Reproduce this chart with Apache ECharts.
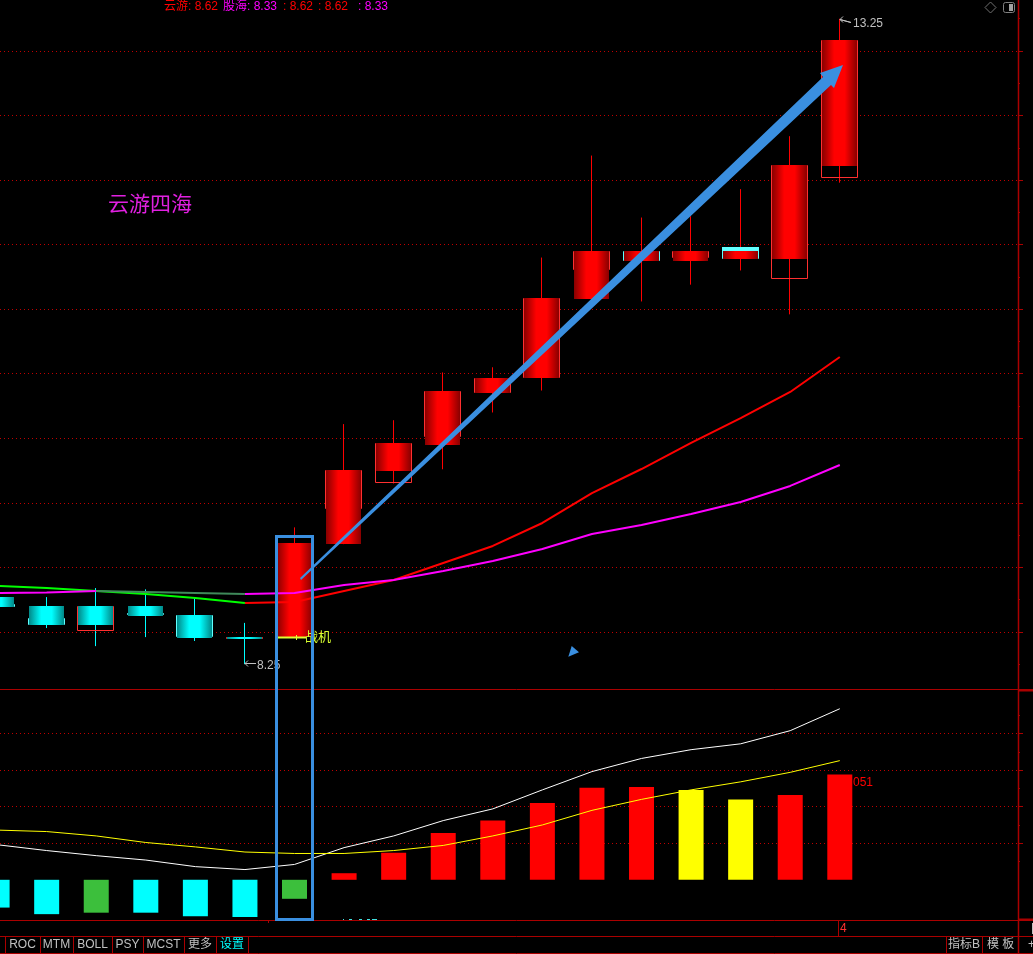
<!DOCTYPE html>
<html>
<head>
<meta charset="utf-8">
<title>云游四海</title>
<script src="https://cdn.jsdelivr.net/npm/echarts@6/dist/echarts.min.js"></script>
<style>
html, body { margin: 0; padding: 0; background: #000; }
#main { width: 1033px; height: 954px; }
</style>
</head>
<body>
<div id="main"></div>
<script>
// K-line values
var bodyTop    = [8.77, 8.70, 8.70, 8.70, 8.63, 8.46, 9.19, 9.755, 9.96, 10.37, 10.47, 11.09, 11.45, 11.45, 11.45, 11.45, 12.117, 13.085];
var bodyBottom = [8.69, 8.55, 8.55, 8.62, 8.45, 8.45, 8.46, 9.18, 9.75, 9.95, 10.35, 10.47, 11.08, 11.37, 11.37, 11.39, 11.39, 12.11];
var wickHigh   = [8.77, 8.77, 8.84, 8.83, 8.76, 8.57, 9.31, 10.11, 10.14, 10.51, 10.55, 11.40, 12.19, 11.71, 11.72, 11.93, 12.34, 13.25];
var wickLow    = [8.69, 8.53, 8.39, 8.46, 8.43, 8.25, 8.46, 9.18, 9.65, 9.76, 10.20, 10.37, 11.08, 11.06, 11.19, 11.30, 10.96, 11.98];
var frameTop   = [8.72, 8.61, 8.70, 8.65, 8.63, 8.46, 9.19, 9.755, 9.96, 10.37, 10.47, 11.09, 11.45, 11.45, 11.45, 11.48, 12.117, 13.085];
var frameBottom= [8.69, 8.55, 8.51, 8.63, 8.46, 8.45, 8.46, 9.45, 9.65, 10.01, 10.35, 10.47, 11.30, 11.37, 11.40, 11.39, 11.23, 12.02];
var bodyKind   = ['d', 'd', 'd', 'd', 'd', 'd', 'u', 'u', 'u', 'u', 'u', 'u', 'u', 'u', 'u', 'u', 'u', 'u'];
var frameKind  = ['d', 'd', 'u', 'd', 'd', 'u', 'u', 'u', 'u', 'u', 'u', 'u', 'u', 'd', 'u', 'd', 'u', 'u'];

// moving averages of the price pane
var maFast = [8.856, 8.84, 8.817, 8.794, 8.763, 8.724, 8.732, 8.817, 8.902, 9.034, 9.166, 9.344, 9.576, 9.762, 9.964, 10.157, 10.359, 10.63];
var maSlow = [8.802, 8.806, 8.817, 8.809, 8.802, 8.794, 8.802, 8.864, 8.902, 8.972, 9.05, 9.143, 9.259, 9.328, 9.414, 9.507, 9.631, 9.793];
var fallingUntil = 5;

// lower pane
var macdBars = [-0.38, -0.47, -0.45, -0.45, -0.50, -0.51, -0.26, 0.09, 0.37, 0.64, 0.81, 1.05, 1.26, 1.27, 1.23, 1.10, 1.16, 1.44];
var barKind  = ['c', 'c', 'g', 'c', 'c', 'c', 'g', 'r', 'r', 'r', 'r', 'r', 'r', 'r', 'y', 'y', 'r', 'r'];
var whiteLine  = [0.48, 0.40, 0.33, 0.27, 0.18, 0.14, 0.21, 0.44, 0.60, 0.81, 0.97, 1.23, 1.48, 1.66, 1.78, 1.86, 2.04, 2.34];
var yellowLine = [0.68, 0.66, 0.60, 0.51, 0.45, 0.38, 0.36, 0.36, 0.40, 0.47, 0.60, 0.75, 0.95, 1.10, 1.23, 1.34, 1.47, 1.63];

// axis levels
var priceLevels = [8.5, 9, 9.5, 10, 10.5, 11, 11.5, 12, 12.5, 13];
var priceMinor  = [8.25, 8.75, 9.25, 9.75, 10.25, 10.75, 11.25, 11.75, 12.25, 12.75, 13.25];
var lowerLevels = [0, 0.5, 1, 1.5, 2];
var lowerMinor  = [0.25, 0.75, 1.25, 1.75, 2.25];
var extremes = [[17, 13.25, '13.25'], [5, 8.25, '8.25']];

// bottom tabs
var tabLabels = ['ROC', 'MTM', 'BOLL', 'PSY', 'MCST', '更多', '设置'];
var tabEdges  = [5, 40, 73, 112, 143, 184, 216, 248];

var RED = '#ff0000', CYAN = '#00ffff', DARK = '#aa0000', BLUE = '#3a8fe0', GREY = '#c0c0c0';
var FONT = '"Liberation Sans", "Noto Sans CJK SC", sans-serif';
var barColors = { c: CYAN, g: '#3cbf3c', r: RED, y: '#ffff00' };

function indexed(arr) {
    return arr.map(function (v, i) { return [i, v]; });
}
// keep only the stretch of a line that belongs to one colour
function stretch(arr, from, to) {
    return arr.map(function (v, i) { return [i, i >= from && i <= to ? v : null]; });
}

function bodyGradient(kind) {
    var edge = kind === 'u' ? '#880000' : '#008888';
    var mid = kind === 'u' ? RED : CYAN;
    return new echarts.graphic.LinearGradient(0, 0, 1, 0, [
        { offset: 0, color: edge }, { offset: 0.35, color: mid },
        { offset: 0.65, color: mid }, { offset: 1, color: edge }
    ]);
}

function renderCandle(params, api) {
    var i = api.value(0);
    var x = Math.round(api.coord([i, bodyTop[i]])[0]);
    var yOf = function (p) { return api.coord([i, p])[1]; };
    var wickColor = bodyKind[i] === 'u' ? RED : CYAN;
    var frameColor = frameKind[i] === 'u' ? '#ff3030' : '#60ffff';
    var kids = [];
    kids.push({
        type: 'line',
        shape: { x1: x - 0.5, y1: yOf(wickHigh[i]), x2: x - 0.5, y2: yOf(wickLow[i]) },
        style: { stroke: wickColor, lineWidth: 1 }
    });
    var ft = Math.round(yOf(frameTop[i])), fb = Math.round(yOf(frameBottom[i]));
    var bt = Math.round(yOf(bodyTop[i])), bb = Math.round(yOf(bodyBottom[i]));
    kids.push({
        type: 'rect',
        shape: { x: x - 18.5, y: ft + 0.5, width: 36, height: Math.max(fb - ft - 1, 1) },
        style: { fill: null, stroke: frameColor, lineWidth: 1 }
    });
    if (ft < bt - 1) {
        kids.push({
            type: 'rect',
            shape: { x: x - 19, y: ft, width: 37, height: bt - ft },
            style: { fill: frameColor }
        });
    }
    kids.push({
        type: 'rect',
        shape: { x: x - 18, y: bt, width: 35, height: Math.max(bb - bt, 2) },
        style: { fill: bodyGradient(bodyKind[i]) }
    });
    return { type: 'group', children: kids };
}

function renderExtreme(params, api) {
    var p = api.coord([api.value(0), api.value(1)]);
    var high = api.value(1) > 10;
    var y = Math.round(p[1]) + (high ? 0.5 : -0.5);
    var x = Math.round(p[0]);
    return {
        type: 'group',
        children: [
            { type: 'polyline', shape: { points: [[x + 3, y - 3], [x, y], [x + 11, y + (high ? 3 : 0)], [x, y], [x + 3, y + 3]] },
              style: { fill: null, stroke: GREY, lineWidth: 1 } },
            { type: 'text', x: x + (high ? 13 : 12), y: y + (high ? 4 : 2),
              style: { text: extremes[params.dataIndex][2], fill: GREY, font: '12px ' + FONT, verticalAlign: 'middle' } }
        ]
    };
}

// chrome around the panes
function line(x1, y1, x2, y2, color, w) {
    return { type: 'line', z: 50, silent: true, shape: { x1: x1, y1: y1, x2: x2, y2: y2 },
        style: { stroke: color || DARK, lineWidth: w || 1 } };
}
function text(x, y, str, color, size, align) {
    return { type: 'text', z: 60, silent: true, x: x, y: y,
        style: { text: str, fill: color, font: (size || 12) + 'px ' + FONT, textAlign: align || 'left', textVerticalAlign: 'middle' } };
}

var chrome = [
    line(0, 689.5, 1033, 689.5),
    line(1018, 690.5, 1033, 690.5, DARK, 2),
    line(0, 920.5, 1033, 920.5),
    line(1018, 919.5, 1033, 919.5, DARK, 2),
    line(0, 936.5, 1033, 936.5),
    line(0, 953.5, 1033, 953.5),
    line(1018.5, 0, 1018.5, 954, DARK, 1.5),
    line(838.5, 920, 838.5, 936),
    line(268.5, 920, 268.5, 923),
    line(946.5, 936, 946.5, 954),
    line(982.5, 936, 982.5, 954),
    text(840, 929, '4', '#ff3030', 12),
    text(948, 945, '指标B', GREY, 12),
    text(987, 945, '模 板', GREY, 12),
    text(1028, 945, '+', GREY, 12),
    text(-5, 945, 'I', GREY, 12),
    { type: 'rect', z: 60, silent: true, shape: { x: 1032, y: 923, width: 1, height: 11 }, style: { fill: '#c0c0c0' } },
    // header readout
    text(164, 7, '云游: 8.62', RED, 12),
    text(223, 7, '股海: 8.33', '#ff00ff', 12),
    text(283, 7, ': 8.62', RED, 12),
    text(318, 7, ': 8.62', RED, 12),
    text(358, 7, ': 8.33', '#ff00ff', 12),
    { type: 'polygon', z: 60, silent: true, shape: { points: [[990.5, 2], [996, 7.5], [990.5, 13], [985, 7.5]] },
      style: { fill: null, stroke: '#707070', lineWidth: 1 } },
    { type: 'rect', z: 60, silent: true, shape: { x: 1003.5, y: 2.5, width: 11, height: 10, r: 2 },
      style: { fill: null, stroke: '#808080', lineWidth: 1 } },
    { type: 'rect', z: 60, silent: true, shape: { x: 1009, y: 4, width: 4, height: 7 }, style: { fill: '#a0a0a0' } },
    text(108, 205, '云游四海', '#e020e0', 21),
    // signal tag under the breakout candle
    line(278, 637.5, 306, 637.5, '#e0ff30', 2),
    line(296.5, 635, 296.5, 640, '#e0ff30', 1),
    text(305, 637, '战机', '#d8ff30', 13),
    text(853, 783, '051', RED, 12),
    // blue annotations on top
    { type: 'rect', z: 70, silent: true, shape: { x: 276.5, y: 536.5, width: 36, height: 383 },
      style: { fill: null, stroke: BLUE, lineWidth: 3 } },
    { type: 'polygon', z: 70, silent: true,
      shape: { points: [[300, 578], [823, 77], [820, 73], [843, 65], [834, 88], [831, 85], [301, 580]] },
      style: { fill: BLUE } },
    { type: 'polygon', z: 70, silent: true, shape: { points: [[571.7, 646], [579, 652.3], [568.3, 656.7]] },
      style: { fill: BLUE } }
];

tabEdges.forEach(function (x) { chrome.push(line(x + 0.5, 936, x + 0.5, 954)); });
tabLabels.forEach(function (t, i) {
    var mid = (tabEdges[i] + tabEdges[i + 1]) / 2;
    chrome.push(text(mid, 945, t, t === '设置' ? CYAN : GREY, 12, 'center'));
});
// clipped remains of a value under the lower pane
[[343, 1], [349, 3], [359, 3], [367, 3], [372, 5]].forEach(function (d) {
    chrome.push({ type: 'rect', z: 60, silent: true, shape: { x: d[0], y: 919, width: d[1], height: 1 }, style: { fill: '#40e0e0' } });
});

function priceAxis(gridIndex, min, max, values, len, isMain) {
    return {
        type: 'value', gridIndex: gridIndex, position: 'right', min: min, max: max, scale: true,
        axisLine: { show: false },
        axisLabel: { show: false },
        axisTick: { show: true, inside: false, length: len, customValues: values, lineStyle: { color: DARK, width: 1 } },
        splitLine: { show: isMain, lineStyle: { color: '#c00000', width: 1, type: [1, 3] } }
    };
}
function indexAxis(gridIndex) {
    return { type: 'value', gridIndex: gridIndex, min: 0.0585, max: 20.595, show: false, splitLine: { show: false } };
}

var lineSeries = function (name, data, color, width, x, y) {
    return {
        name: name, type: 'line', data: data, xAxisIndex: x, yAxisIndex: y,
        symbol: 'none', smooth: false, silent: true, animation: false, connectNulls: false,
        lineStyle: { color: color, width: width }, z: 5
    };
};

var option = {
    backgroundColor: '#000',
    animation: false,
    grid: [
        { left: 0, top: 0, width: 1018, height: 689 },
        { left: 0, top: 689, width: 1018, height: 231 }
    ],
    xAxis: [indexAxis(0), indexAxis(1)],
    yAxis: [
        priceAxis(0, 8.058, 13.395, priceLevels, 5, true),
        priceAxis(0, 8.058, 13.395, priceMinor, 2, false),
        priceAxis(1, -0.55, 2.61, lowerLevels.slice(1), 5, true),
        priceAxis(1, -0.55, 2.61, lowerMinor, 2, false)
    ],
    series: [
        {
            name: 'K', type: 'custom', xAxisIndex: 0, yAxisIndex: 0, clip: true, silent: true,
            data: bodyTop.map(function (v, i) { return [i, v, bodyBottom[i], wickHigh[i], wickLow[i]]; }),
            encode: { x: 0, y: [1, 2, 3, 4] },
            renderItem: renderCandle, z: 3
        },
        lineSeries('云游跌', stretch(maFast, 0, fallingUntil), '#00ff00', 2, 0, 0),
        lineSeries('云游', stretch(maFast, fallingUntil, 17), RED, 2, 0, 0),
        lineSeries('股海', stretch(maSlow, 0, 2), '#ff00ff', 2, 0, 0),
        lineSeries('股海跌', stretch(maSlow, 2, fallingUntil), '#3f8a5a', 2, 0, 0),
        lineSeries('股海涨', stretch(maSlow, fallingUntil, 17), '#ff00ff', 2, 0, 0),
        {
            name: 'extremes', type: 'custom', xAxisIndex: 0, yAxisIndex: 0, clip: false, silent: true,
            data: extremes.map(function (d) { return [d[0], d[1]]; }),
            encode: { x: 0, y: 1 },
            renderItem: renderExtreme, z: 6
        },
        {
            name: 'MACD', type: 'bar', xAxisIndex: 1, yAxisIndex: 2, barWidth: 25, silent: true,
            data: macdBars.map(function (v, i) {
                return { value: [i, v], itemStyle: { color: barColors[barKind[i]] } };
            }),
            z: 3
        },
        lineSeries('白线', indexed(whiteLine), '#ffffff', 1, 1, 2),
        lineSeries('黄线', indexed(yellowLine), '#ffff00', 1, 1, 2)
    ],
    graphic: { elements: chrome }
};

var myChart = echarts.init(document.getElementById('main'), null, { renderer: 'canvas', width: 1033, height: 954 });
myChart.setOption(option);
</script>
</body>
</html>
